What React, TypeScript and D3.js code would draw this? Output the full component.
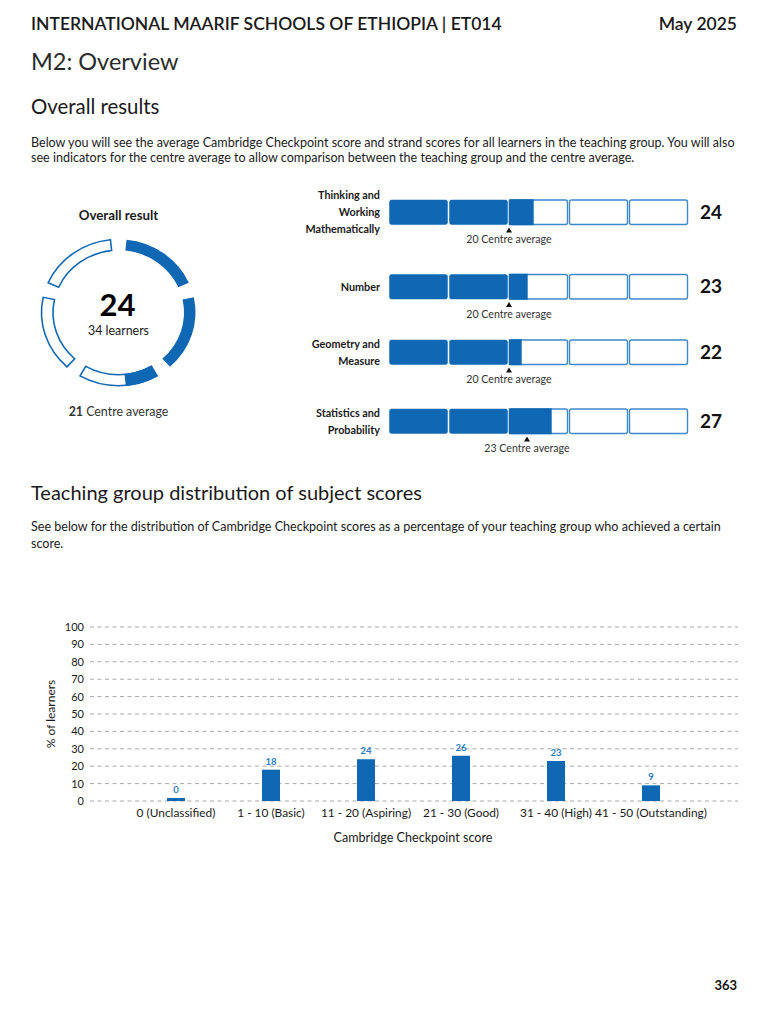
import React from "react";
import * as d3 from "d3";

// ---------- data ----------
const overallScore = 24;
const learnerCount = 34;
const overallCentreAverage = 21;
const ringMax = 50;
const ringSegments = 5;

const strandLabels: string[][] = [
  ["Thinking and", "Working", "Mathematically"],
  ["Number"],
  ["Geometry and", "Measure"],
  ["Statistics and", "Probability"],
];
const strandScores = [24, 23, 22, 27];
const strandCentreAverages = [20, 20, 20, 23];

const scoreBands = [
  "0 (Unclassified)",
  "1 - 10 (Basic)",
  "11 - 20 (Aspiring)",
  "21 - 30 (Good)",
  "31 - 40 (High)",
  "41 - 50 (Outstanding)",
];
const pctLearners = [0, 18, 24, 26, 23, 9];
const yTicks = [0, 10, 20, 30, 40, 50, 60, 70, 80, 90, 100];

// ---------- styles ----------
const BLUE = "#1068b4";
const BOX_STROKE = "#3f88c9";
const TEXT = "#1a1a1a";
const FONT = "Lato, 'Open Sans', sans-serif";

function Donut() {
  const cx = 118.5;
  const cy = 312.5;
  const rOuter = 77;
  const rInner = 65.5;
  const gapDeg = 12;
  const segSpan = 360 / ringSegments;
  const segValue = ringMax / ringSegments;
  const rad = (d: number) => (d * Math.PI) / 180;
  const arc = d3.arc<any>().innerRadius(rInner).outerRadius(rOuter);
  const segs = d3.range(ringSegments).map((i) => {
    const s = i * segSpan + gapDeg / 2;
    const e = (i + 1) * segSpan - gapDeg / 2;
    const frac = Math.max(0, Math.min(1, (overallScore - i * segValue) / segValue));
    return { s, e, frac };
  });
  return (
    <g>
      <text x={cx} y={219.5} textAnchor="middle" fontFamily={FONT} fontWeight={700} fontSize={13.3} fill={TEXT}>
        Overall result
      </text>
      <g transform={`translate(${cx},${cy}) scale(1,0.95)`}>
        {segs.map((sg, i) => (
          <g key={i}>
            {sg.frac < 1 && (
              <path
                d={arc({ startAngle: rad(sg.s), endAngle: rad(sg.e) }) || ""}
                fill="#fff"
                stroke={BLUE}
                strokeWidth={1.6}
              />
            )}
            {sg.frac > 0 && (
              <path
                d={arc({ startAngle: rad(sg.s), endAngle: rad(sg.s + (sg.e - sg.s) * sg.frac) }) || ""}
                fill={BLUE}
                stroke={BLUE}
                strokeWidth={sg.frac < 1 ? 1.6 : 0}
              />
            )}
          </g>
        ))}
      </g>
      <text x={cx - 1} y={316} textAnchor="middle" fontFamily={FONT} fontWeight={700} fontSize={31} fill="#000">
        {overallScore}
      </text>
      <text x={cx} y={334.5} textAnchor="middle" fontFamily={FONT} fontSize={12.4} fill={TEXT}>
        {learnerCount} learners
      </text>
      <text x={cx} y={416} textAnchor="middle" fontFamily={FONT} fontSize={12.4} fill="#333">
        <tspan fontWeight={700}>{overallCentreAverage}</tspan> Centre average
      </text>
    </g>
  );
}

function Strands() {
  const x = d3.scaleLinear().domain([0, ringMax]).range([389, 689]);
  const boxTops = [200, 274.5, 340, 409];
  const boxH = 24.5;
  const boxes = d3.range(ringSegments).map((i) => [i * 10, (i + 1) * 10]);
  return (
    <g>
      {strandScores.map((score, r) => {
        const top = boxTops[r];
        const labels = strandLabels[r];
        const mid = top + boxH / 2;
        const lh = 16.8;
        const firstY = mid - ((labels.length - 1) * lh) / 2 + 4;
        const ca = strandCentreAverages[r];
        const cax = x(ca);
        return (
          <g key={r}>
            {labels.map((l, j) => (
              <text key={j} x={380} y={firstY + j * lh} textAnchor="end" fontFamily={FONT} fontWeight={700} fontSize={10.8} fill={TEXT}>
                {l}
              </text>
            ))}
            {boxes.map(([a, b], i) => {
              const x0 = x(a) + 0.5;
              const x1 = x(b) - 1.5;
              const filled = Math.max(a, Math.min(b, score));
              const fx = x(filled) - (filled === b ? 1.5 : 0);
              return (
                <g key={i}>
                  {score < b && (
                    <rect x={x0} y={top} width={x1 - x0} height={boxH} rx={2} fill="#fff" stroke={BOX_STROKE} strokeWidth={1.4} />
                  )}
                  {score > a && (
                    <rect x={x0} y={top} width={Math.max(0, fx - x0)} height={boxH} rx={filled === b ? 2 : 0} fill={BLUE} stroke={BLUE} strokeWidth={score < b ? 1.4 : 0.5} />
                  )}
                </g>
              );
            })}
            <path d={`M${cax - 3},${top + boxH + 8} L${cax + 3},${top + boxH + 8} L${cax},${top + boxH + 3} Z`} fill="#111" />
            <text x={cax} y={top + boxH + 18.5} textAnchor="middle" fontFamily={FONT} fontSize={10.6} fill="#333">
              {ca} Centre average
            </text>
            <text x={711} y={mid + 6.5} textAnchor="middle" fontFamily={FONT} fontWeight={700} fontSize={19} fill="#111">
              {score}
            </text>
          </g>
        );
      })}
    </g>
  );
}

function Distribution() {
  const y = d3.scaleLinear().domain([0, 100]).range([801, 627]);
  const x = d3.scaleBand<string>().domain(scoreBands).range([128.5, 698.5]);
  const barW = 18;
  return (
    <g>
      {yTicks.map((t) => (
        <g key={t}>
          <line x1={90} x2={738} y1={y(t)} y2={y(t)} stroke="#a8a8a8" strokeWidth={1} strokeDasharray="4,3.5" />
          <text x={84} y={y(t) + 4} textAnchor="end" fontFamily={FONT} fontSize={11} fill={TEXT}>
            {t}
          </text>
        </g>
      ))}
      {scoreBands.map((b, i) => {
        const v = pctLearners[i];
        const cx = (x(b) || 0) + x.bandwidth() / 2;
        const h = Math.max(3, y(0) - y(v));
        return (
          <g key={b}>
            <rect x={cx - barW / 2} y={y(0) - h} width={barW} height={h} fill={BLUE} />
            <text x={cx} y={y(0) - h - 5} textAnchor="middle" fontFamily={FONT} fontWeight={700} fontSize={9.5} fill="#2a7cc6">
              {v}
            </text>
            <text x={cx} y={817} textAnchor="middle" fontFamily={FONT} fontSize={11.9} fill={TEXT}>
              {b}
            </text>
          </g>
        );
      })}
      <text x={413} y={842} textAnchor="middle" fontFamily={FONT} fontSize={12.6} fill={TEXT}>
        Cambridge Checkpoint score
      </text>
      <text transform="translate(55,714) rotate(-90)" textAnchor="middle" fontFamily={FONT} fontSize={12} fill={TEXT}>
        % of learners
      </text>
    </g>
  );
}

export default function App() {
  return (
    <div style={{ position: "absolute", left: 0, top: 0, width: 768, height: 1024, background: "#fff" }}>
      <svg width={768} height={1024} viewBox="0 0 768 1024" style={{ display: "block" }}>
        <rect width={768} height={1024} fill="#fff" />
        <text x={31} y={30} fontFamily={FONT} fontWeight={600} fontSize={17.5} fill="#1a1a1a">
          INTERNATIONAL MAARIF SCHOOLS OF ETHIOPIA | ET014
        </text>
        <text x={737} y={30} textAnchor="end" fontFamily={FONT} fontWeight={600} fontSize={17.5} fill="#1a1a1a">
          May 2025
        </text>
        <text x={31} y={70} fontFamily={FONT} fontSize={23.5} fill="#2a2a2a">
          M2: Overview
        </text>
        <text x={31} y={114} fontFamily={FONT} fontSize={20.4} fill="#1a1a1a">
          Overall results
        </text>
        <text x={31} y={147} fontFamily={FONT} fontSize={12.55} fill={TEXT}>
          Below you will see the average Cambridge Checkpoint score and strand scores for all learners in the teaching group. You will also
        </text>
        <text x={31} y={162} fontFamily={FONT} fontSize={12.55} fill={TEXT}>
          see indicators for the centre average to allow comparison between the teaching group and the centre average.
        </text>
        <Donut />
        <Strands />
        <text x={31} y={500} fontFamily={FONT} fontSize={20} fill="#1a1a1a">
          Teaching group distribution of subject scores
        </text>
        <text x={31} y={531} fontFamily={FONT} fontSize={12.55} fill={TEXT}>
          See below for the distribution of Cambridge Checkpoint scores as a percentage of your teaching group who achieved a certain
        </text>
        <text x={31} y={548} fontFamily={FONT} fontSize={12.55} fill={TEXT}>
          score.
        </text>
        <Distribution />
        <text x={737} y={990} textAnchor="end" fontFamily={FONT} fontWeight={700} fontSize={13} fill="#111">
          363
        </text>
      </svg>
    </div>
  );
}
